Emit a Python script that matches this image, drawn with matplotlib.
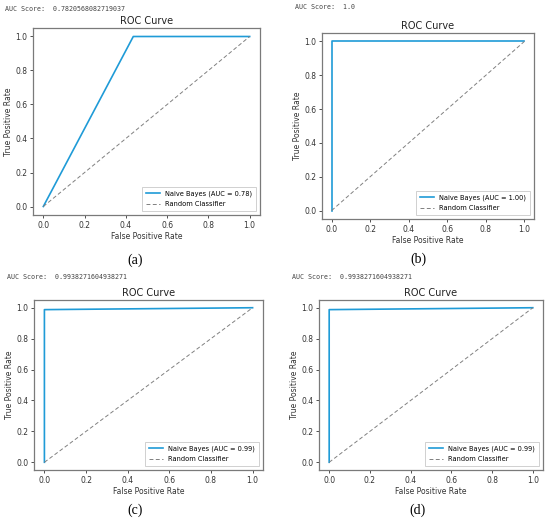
import matplotlib
matplotlib.use('Agg')
import matplotlib.pyplot as plt

# ROC points per panel
fpr_a = [0.0, 0.436, 1.0]
tpr_a = [0.0, 1.0, 1.0]
fpr_b = [0.0, 0.0, 1.0]
tpr_b = [0.0, 1.0, 1.0]
fpr_c = [0.0, 0.0, 1.0]
tpr_c = [0.0, 0.98765, 1.0]
fpr_d = [0.0, 0.0, 1.0]
tpr_d = [0.0, 0.98765, 1.0]

auc_text = ['0.7820568082719037', '1.0', '0.9938271604938271', '0.9938271604938271']
auc_legend = ['0.78', '1.00', '0.99', '0.99']
panel_labels = ['(a)', '(b)', '(c)', '(d)']
ticks = [0.0, 0.2, 0.4, 0.6, 0.8, 1.0]

W, H = 550, 521
fig = plt.figure(figsize=(W / 100, H / 100), dpi=100)

# pixel boxes: left, right, top, bottom
boxes = [(33, 260, 28, 215), (322, 534, 33, 219), (34, 263, 300, 470), (319, 543, 300, 470)]
score_pos = [(5, 9), (295, 7), (7, 277), (292, 277)]
label_pos = [(135, 260), (418, 259), (135, 510), (418, 510)]
curves = [(fpr_a, tpr_a), (fpr_b, tpr_b), (fpr_c, tpr_c), (fpr_d, tpr_d)]

line_col = '#1f9bd7'
spine_col = '#7a7a7a'

for i in range(4):
    l, r, t, b = boxes[i]
    ax = fig.add_axes([l / W, 1 - b / H, (r - l) / W, (b - t) / H])
    fx, ty = curves[i]
    ax.plot(fx, ty, color=line_col, lw=1.2, label='Naive Bayes (AUC = %s)' % auc_legend[i])
    ax.plot([0, 1], [0, 1], color='gray', lw=0.7, ls=(0, (4, 2.5)), label='Random Classifier')
    ax.set_xticks(ticks)
    ax.set_yticks(ticks)
    ax.tick_params(labelsize=5.5, length=2, width=0.6, colors='#333333', pad=2)
    ax.set_xlabel('False Positive Rate', fontsize=5.5, color='#333333', labelpad=2)
    ax.set_ylabel('True Positive Rate', fontsize=5.5, color='#333333', labelpad=2)
    ax.set_title('ROC Curve', fontsize=7, color='#222222', pad=3)
    for s in ax.spines.values():
        s.set_color(spine_col)
        s.set_linewidth(0.9)
    leg = ax.legend(loc='lower right', fontsize=4.8, frameon=True, fancybox=False,
                    handlelength=2.0, borderpad=0.6, labelspacing=0.6, borderaxespad=0.6)
    leg.get_frame().set_edgecolor('#bbbbbb')
    leg.get_frame().set_linewidth(0.6)

    sx, sy = score_pos[i]
    fig.text(sx / W, 1 - sy / H, 'AUC Score:  ' + auc_text[i], fontsize=4.8,
             family='DejaVu Sans Mono', color='#444444', va='center', ha='left')
    lx, ly = label_pos[i]
    fig.text(lx / W, 1 - ly / H, panel_labels[i], fontsize=10,
             family='Liberation Serif', color='black', va='center', ha='center')

fig.savefig('out.png', dpi=100, facecolor='white')
